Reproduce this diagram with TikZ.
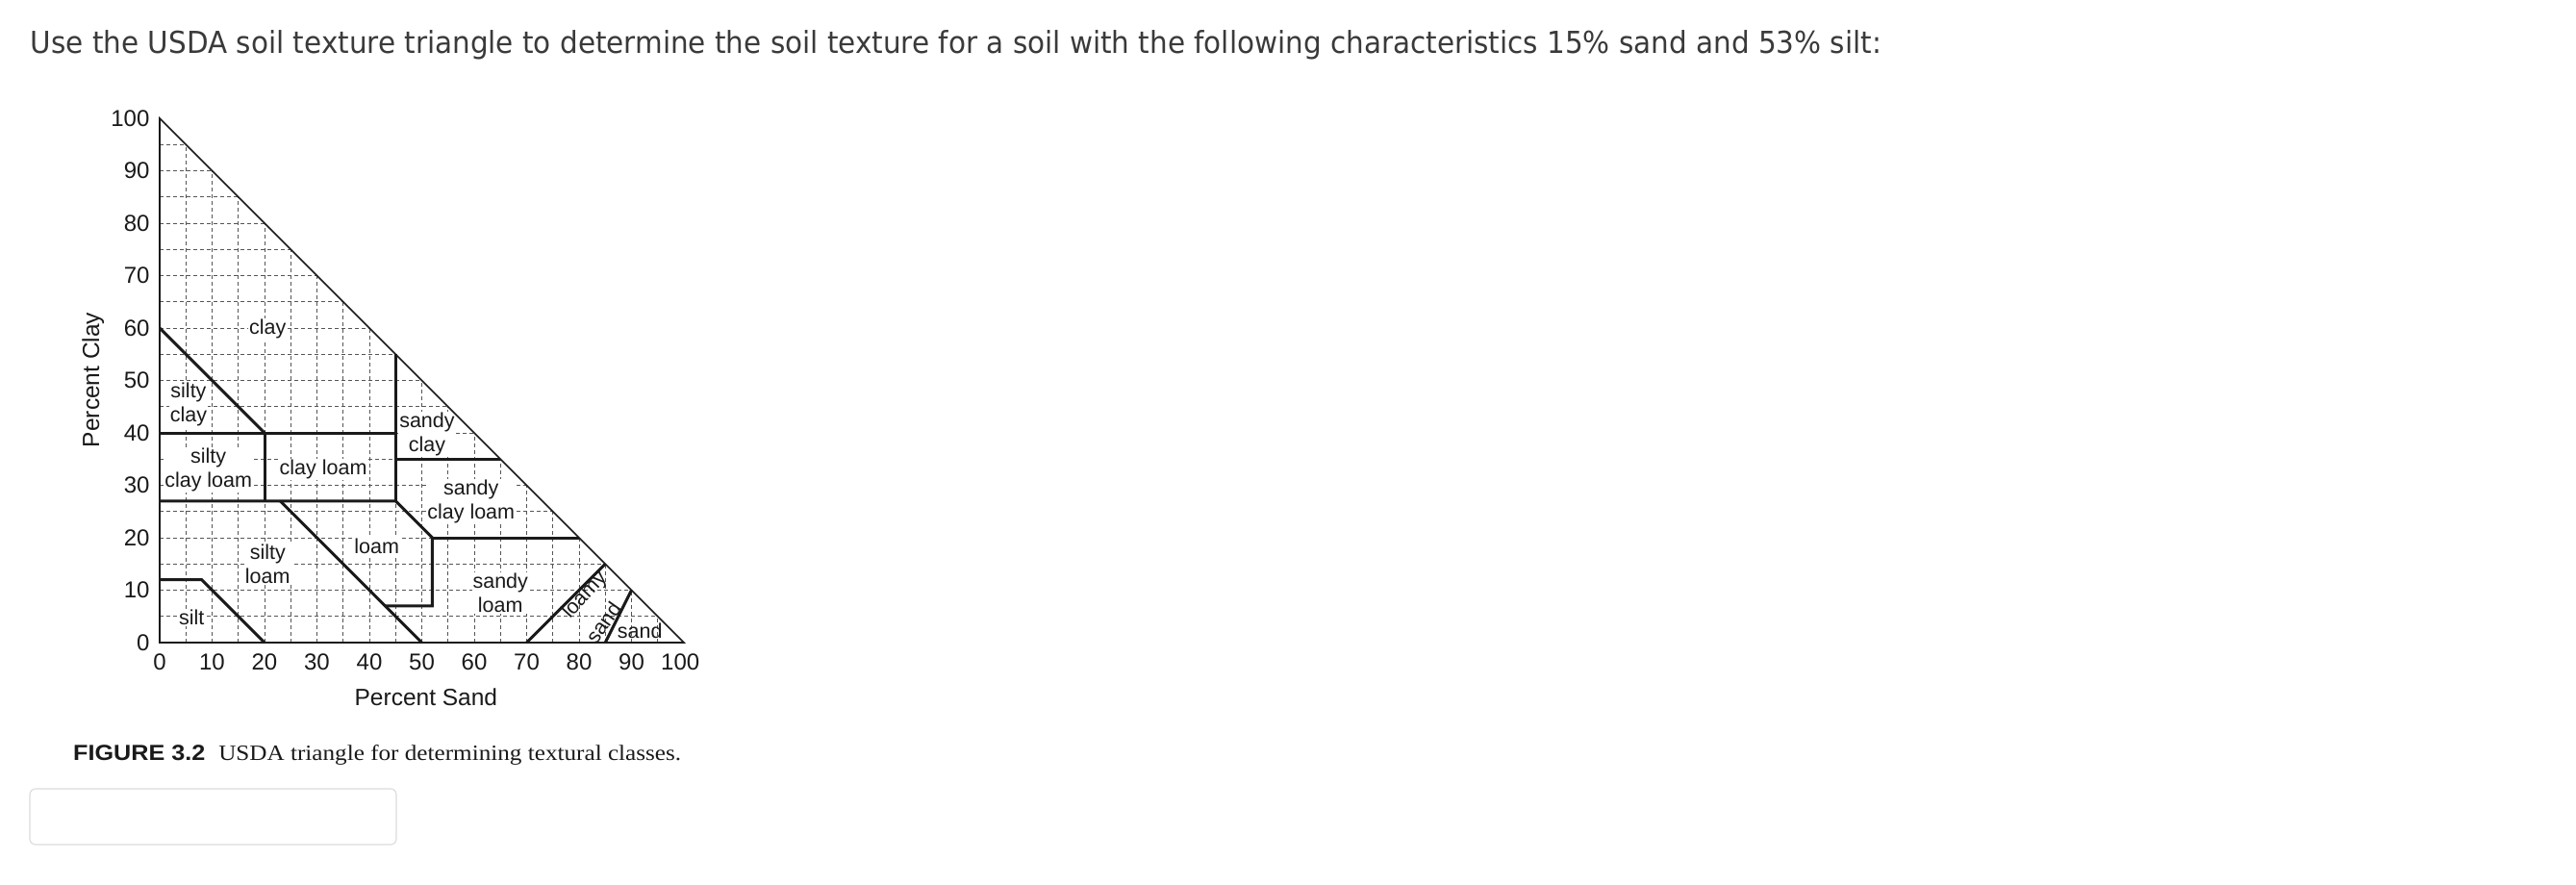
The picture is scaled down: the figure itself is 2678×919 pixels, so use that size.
\documentclass[tikz,border=0pt]{standalone}
\usepackage{fontspec}
\setmainfont{Liberation Sans}
\newfontfamily\titlefont{DejaVu Sans}
\newfontfamily\capfont{Liberation Serif}
\definecolor{titlegray}{HTML}{3A3A3A}
\definecolor{gridgray}{HTML}{555555}
\definecolor{boxgray}{HTML}{DDDDDD}
\definecolor{ink}{HTML}{1A1A1A}
\tikzset{
  gridline/.style={draw=gridgray, line width=1pt, dash pattern=on 4pt off 3pt},
  bound/.style={draw=ink, line width=3pt, line join=miter},
  outline/.style={draw=ink, line width=1.6pt},
  region/.style={font=\fontsize{21.5}{25}\selectfont, text=ink, fill=white, inner sep=1pt, align=center},
  ticklab/.style={font=\fontsize{24}{28}\selectfont, text=ink, inner sep=0pt},
  axtitle/.style={font=\fontsize{24.5}{28}\selectfont, text=ink, inner sep=0pt},
}
\begin{document}
\begin{tikzpicture}[x=1pt,y=-1pt]
\fill[white] (0,0) rectangle (2678,919);
\useasboundingbox (0,0) rectangle (2678,919);

\node[anchor=base west, inner sep=0pt, text=titlegray] (title) at (31.7,55.7)
  {\resizebox{1924pt}{\height}{\titlefont\fontsize{31.5}{36}\selectfont Use the USDA soil texture triangle to determine the soil texture for a soil with the following characteristics 15\% sand and 53\% silt:}};

\begin{scope}[shift={(166,668)}, x=5.45pt, y=5.45pt]
  % grid
  \foreach \k in {5,10,...,95} {
    \draw[gridline] (0,\k) -- ({100-\k},\k);
    \draw[gridline] (\k,0) -- (\k,{100-\k});
  }
  % region labels
  \node[region] (lclay) at (20.6,59.8) {clay};
  \node[region] (lsiltyclay) at (5.5,45.5) {silty\\clay};
  \node[region] (lsiltyclayloam) at (9.3,33) {silty\\clay loam};
  \node[region] (lclayloam) at (31.2,33) {clay loam};
  \node[region] (lsiltyloam) at (20.6,14.9) {silty\\loam};
  \node[region] (lsilt) at (6.1,4.8) {silt};
  \node[region] (lloam) at (41.4,18.3) {loam};
  \node[region] (lsandyclay) at (51,39.8) {sandy\\clay};
  \node[region] (lsandyclayloam) at (59.4,26.9) {sandy\\clay loam};
  \node[region] (lsandyloam) at (65,9.5) {sandy\\loam};
  \node[region, fill=none, inner sep=0pt, rotate=47] (lloamy) at (81.1,9.0) {loamy};
  \node[region, fill=none, inner sep=0pt, rotate=55] (lsand1) at (84.7,3.8) {sand};
  \node[region, fill=none, inner sep=0pt] (lsand2) at (91.6,2.2) {sand};
  % class boundaries
  \draw[bound] (0,60) -- (20,40);
  \draw[bound] (0,40) -- (45,40);
  \draw[bound] (45,55) -- (45,27);
  \draw[bound] (20,40) -- (20,27);
  \draw[bound] (0,27) -- (45,27) -- (52,20) -- (52,7) -- (43,7);
  \draw[bound] (45,35) -- (65,35);
  \draw[bound] (52,20) -- (80,20);
  \draw[bound] (23,27) -- (50,0);
  \draw[bound] (0,12) -- (8,12) -- (20,0);
  \draw[bound] (70,0) -- (85,15);
  \draw[bound] (85,0) -- (90,10);
  % outline
  \draw[outline] (0,100) -- (0,0) -- (100,0) -- cycle;
  % ticks
  \foreach \v in {0,10,...,100} {
    \node[ticklab, anchor=east] (yl\v) at (-1.9,\v) {\v};
  }
  \foreach \v in {0,10,...,90} {
    \node[ticklab] (xl\v) at (\v,-3.7) {\v};
  }
  \node[ticklab] (xl100) at (99.3,-3.7) {100};
  \node[axtitle] (xtitle) at (50.8,-10.4) {Percent Sand};
  \node[axtitle, rotate=90] (ytitle) at (-12.7,50.1) {Percent Clay};
\end{scope}

\node[anchor=base west, inner sep=0pt, text=ink] (caption) at (76,790)
  {\resizebox{632pt}{\height}{\fontsize{22.7}{26}\selectfont{\bfseries FIGURE 3.2}\ \ \capfont USDA triangle for determining textural classes.}};

\node[draw=boxgray, line width=1.2pt, rounded corners=6pt, minimum width=381pt, minimum height=58pt, inner sep=0pt] (answerbox) at (221.5,849) {};
\end{tikzpicture}
\end{document}
